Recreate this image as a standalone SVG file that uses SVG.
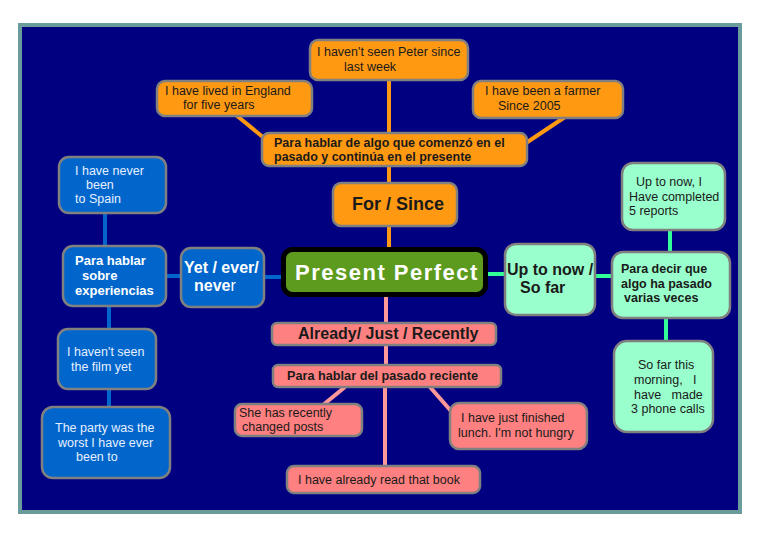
<svg xmlns="http://www.w3.org/2000/svg" width="768" height="543" viewBox="0 0 768 543">
<style>
.bg{fill:#000080;stroke:#6a9c9c;stroke-width:4}
.n{stroke:#808080;stroke-width:2.5}
.or{fill:#ff9912}
.bl{fill:#0066cc}
.mi{fill:#99ffcc}
.pk{fill:#ff8080}
text{font-family:"Liberation Sans",Arial,sans-serif;font-size:12.5px;fill:#1a1a1a}
.b{font-weight:bold}
.w{fill:#e8f0ff}
.wb{fill:#ffffff;font-weight:bold}
.c line{stroke-width:4}
.co{stroke:#ff9912}
.cp{stroke:#ff9999}
.cb{stroke:#0066cc}
.cg{stroke:#33ff99}
</style>
<rect class="bg" x="20" y="25" width="720" height="487"/>
<g id="connectors" class="c">
<line class="co" x1="389" y1="80" x2="389" y2="134"/>
<line class="co" x1="389" y1="166" x2="389" y2="184"/>
<line class="co" x1="389" y1="226" x2="389" y2="248"/>
<line class="co" x1="236" y1="115" x2="264" y2="138"/>
<line class="co" x1="565" y1="117" x2="526" y2="143"/>
<line class="cp" x1="386" y1="297" x2="386" y2="323"/>
<line class="cp" x1="386" y1="345" x2="386" y2="365"/>
<line class="cp" x1="385" y1="387" x2="385" y2="466"/>
<line class="cp" x1="345" y1="387" x2="323" y2="405"/>
<line class="cp" x1="430" y1="387" x2="451" y2="411"/>
<line class="cb" x1="264" y1="277" x2="282" y2="277"/>
<line class="cb" x1="166" y1="276" x2="181" y2="276"/>
<line class="cb" x1="105" y1="212" x2="105" y2="247"/>
<line class="cb" x1="109" y1="305" x2="109" y2="330"/>
<line class="cb" x1="109" y1="388" x2="109" y2="408"/>
<line class="cg" x1="487" y1="274" x2="506" y2="274"/>
<line class="cg" x1="594" y1="276" x2="613" y2="276"/>
<line class="cg" x1="670" y1="229" x2="670" y2="253"/>
<line class="cg" x1="666" y1="317" x2="666" y2="342"/>
</g>
<g id="n-peter"><rect class="n or" x="310" y="40" width="158" height="40" rx="8"/><text x="317" y="56">I haven't seen Peter since</text><text x="344" y="71">last week</text></g>
<g id="n-england"><rect class="n or" x="157" y="81" width="155" height="35" rx="8"/><text x="165" y="95">I have lived in England</text><text x="183" y="109">for five years</text></g>
<g id="n-farmer"><rect class="n or" x="473" y="81" width="150" height="37" rx="8"/><text x="485" y="95">I have been a farmer</text><text x="498" y="110">Since 2005</text></g>
<g id="n-algo"><rect class="n or" x="262" y="133" width="265" height="33" rx="7"/><text class="b" x="274" y="147">Para hablar de algo que comenzó en el</text><text class="b" x="274" y="161">pasado y continúa  en el presente</text></g>
<g id="n-forsince"><rect class="n or" x="333" y="183" width="124" height="43" rx="8"/><text class="b" x="352" y="210" style="font-size:18px">For / Since</text></g>
<g id="n-present"><rect x="283.5" y="249.5" width="202" height="45" rx="9" fill="#5c9b1e" stroke="#000" stroke-width="5"/><text class="wb" x="295" y="280" style="font-size:22px;letter-spacing:1.5px">Present Perfect</text></g>
<g id="n-already"><rect class="n pk" x="272" y="323" width="224" height="22" rx="5"/><text class="b" x="298" y="339" style="font-size:16px">Already/ Just / Recently</text></g>
<g id="n-reciente"><rect class="n pk" x="273" y="365" width="228" height="22" rx="5"/><text class="b" x="287" y="380" style="font-size:12.7px">Para hablar del pasado reciente</text></g>
<g id="n-posts"><rect class="n pk" x="235" y="404" width="127" height="32" rx="7"/><text x="239" y="417">She has recently</text><text x="242" y="431">changed posts</text></g>
<g id="n-lunch"><rect class="n pk" x="450" y="403" width="137" height="46" rx="9"/><text x="461" y="422">I have just finished</text><text x="458" y="437">lunch. I'm not hungry</text></g>
<g id="n-book"><rect class="n pk" x="287" y="466" width="193" height="27" rx="7"/><text x="298" y="484">I have already read that book</text></g>
<g id="n-spain"><rect class="n bl" x="59" y="157" width="107" height="56" rx="10"/><text class="w" x="75" y="175">I have never</text><text class="w" x="86" y="189">been</text><text class="w" x="75" y="203">to Spain</text></g>
<g id="n-experiencias"><rect class="n bl" x="63" y="246" width="103" height="60" rx="10"/><text class="wb" x="75" y="265" style="font-size:13px">Para hablar</text><text class="wb" x="82" y="280" style="font-size:13px">sobre</text><text class="wb" x="75" y="295" style="font-size:13px">experiencias</text></g>
<g id="n-yet"><rect class="n bl" x="181" y="248" width="83" height="59" rx="10"/><text class="wb" x="184" y="273" style="font-size:16px">Yet / ever/</text><text class="wb" x="194" y="291" style="font-size:16px">neve<tspan style="font-weight:normal">r</tspan></text></g>
<g id="n-film"><rect class="n bl" x="58" y="329" width="98" height="60" rx="10"/><text class="w" x="67" y="356">I haven't seen</text><text class="w" x="71" y="371">the film yet</text></g>
<g id="n-party"><rect class="n bl" x="42" y="407" width="128" height="71" rx="11"/><text class="w" x="55" y="432">The party was the</text><text class="w" x="58" y="447">worst I have ever</text><text class="w" x="76" y="461">been to</text></g>
<g id="n-reports"><rect class="n mi" x="622" y="163" width="103" height="67" rx="11"/><text x="636" y="186">Up to now, I</text><text x="629" y="201">Have completed</text><text x="629" y="215">5 reports</text></g>
<g id="n-varias"><rect class="n mi" x="612" y="252" width="118" height="66" rx="11"/><text class="b" x="621" y="273">Para decir que</text><text class="b" x="621" y="288">algo ha pasado</text><text class="b" x="624" y="302">varias veces</text></g>
<g id="n-uptonow"><rect class="n mi" x="505" y="244" width="90" height="71" rx="11"/><text class="b" x="507" y="275" style="font-size:16px">Up to now /</text><text class="b" x="520" y="293" style="font-size:16px">So far</text></g>
<g id="n-sofar"><rect class="n mi" x="614" y="341" width="99" height="91" rx="13"/><text x="638" y="369">So far this</text><text x="634" y="384" xml:space="preserve">morning,   I</text><text x="634" y="399" xml:space="preserve">have   made</text><text x="631" y="413">3 phone calls</text></g>
</svg>
